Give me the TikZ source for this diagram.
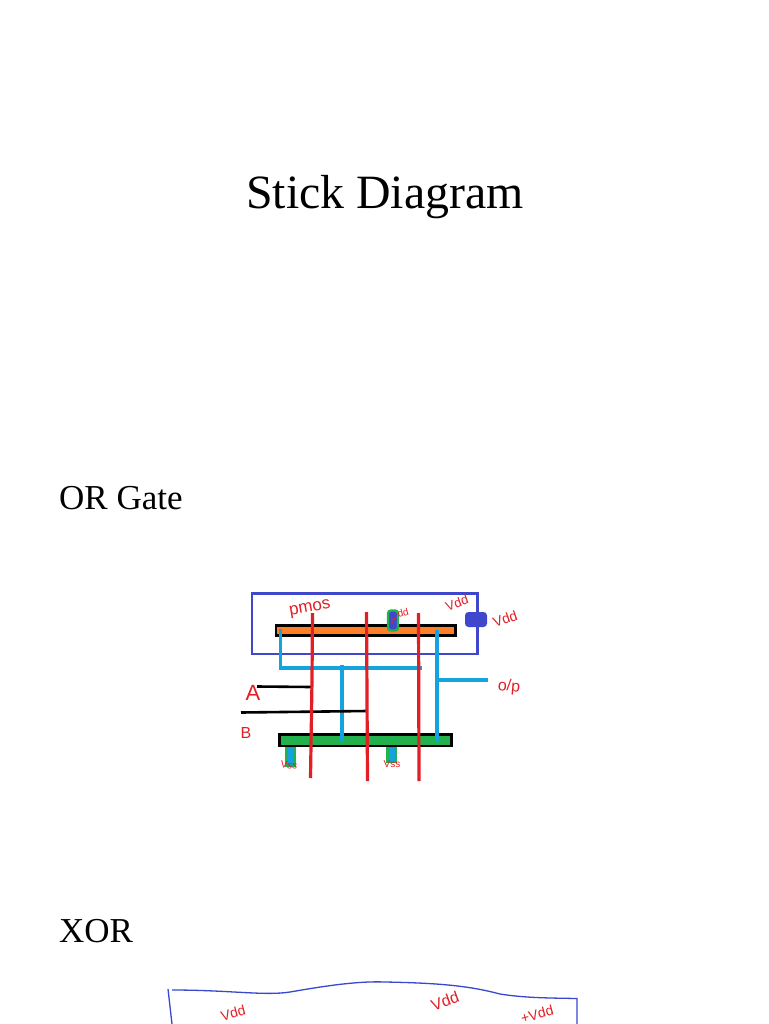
\documentclass[tikz,border=0pt]{standalone}
\usepackage{fontspec}
\setmainfont{Liberation Serif}
\newfontfamily\handfont{Liberation Sans}
\definecolor{wellblue}{HTML}{3F48CC}
\definecolor{polyred}{HTML}{E21F26}
\definecolor{metalblue}{HTML}{15A3DF}
\definecolor{difforange}{HTML}{FF7F27}
\definecolor{diffgreen}{HTML}{22B14C}
\definecolor{sketchblue}{HTML}{3A48D0}
\tikzset{
  titletext/.style={anchor=base west,inner sep=0pt,font=\fontsize{47.8}{48}\selectfont},
  headtext/.style={anchor=base west,inner sep=0pt,font=\fontsize{35}{35}\selectfont},
  hand/.style={text=polyred,inner sep=0pt,font=\handfont\fontsize{#1}{#1}\selectfont},
  well/.style={draw=wellblue,line width=2.8pt},
  poly/.style={draw=polyred,line width=3.2pt},
  metal/.style={draw=metalblue,line width=3.1pt},
  gatewire/.style={draw=black,line width=2.6pt},
  rail/.style={draw=black,line width=2.5pt}
}
\begin{document}
\begin{tikzpicture}[x=1pt,y=-1pt]
\useasboundingbox[fill=white] (0,0) rectangle (768,1024);
\node[titletext] (title) at (246,208.5) {Stick Diagram};
\node[headtext] (orh) at (59,509) {OR Gate};
\node[headtext] (xorh) at (59,942) {XOR};
% n-well / pmos box
\draw[well] (252,593.5) rectangle (477.5,654);
% rails
\draw[rail,fill=difforange] (276,625.6) rectangle (455.5,635.6);
\draw[rail,fill=diffgreen] (279.3,734.5) rectangle (451.5,746);
% bottom contacts
\fill[diffgreen] (285,747) rectangle (296,767);
\fill[metalblue] (287.5,747.5) rectangle (293,765);
\fill[diffgreen] (386,747) rectangle (397,763);
\fill[metalblue] (389,748) rectangle (395,761);
% top contact
\draw[draw=diffgreen,line width=2.4pt,fill=wellblue,rounded corners=3pt] (388,610.5) rectangle (398,630.5);
\draw[polyred,line width=0.9pt] (391,620) -- (395,618) -- (391,624);
% vdd pad
\fill[wellblue,rounded corners=3.5pt] (465,612) rectangle (487,627);
% metal
\draw[metal] (280.5,629) -- (280.5,668) -- (422,668);
\draw[metal] (342,665) -- (342,741);
\draw[metal] (437,630) -- (437,741);
\draw[metal] (437,680) -- (488,680);
% inputs
\draw[gatewire] (257,686.5) -- (311,687);
\draw[gatewire] (241,712.5) -- (367,711);
% poly
\draw[poly] (312.5,613) -- (312,680) -- (310.5,778);
\draw[poly] (366.5,612) -- (367.5,781);
\draw[poly] (418.5,613) -- (419,781);
% xor sketch
\draw[sketchblue,line width=1.3pt] (168,989) -- (172,1024);
\draw[sketchblue,line width=1.3pt] (172,990) .. controls (230,990) and (265,996) .. (290,992) .. controls (330,985) and (360,981) .. (385,982) .. controls (440,983) and (470,986) .. (500,994) .. controls (525,998) and (550,998) .. (577,998.5) -- (577,1024);
% labels
\node[hand=17,rotate=10] (pmoslbl) at (310,609) {pmos};
\node[hand=10,rotate=15] at (403,613) {dd};
\node[hand=13,rotate=20] at (457,603) {Vdd};
\node[hand=14,rotate=20] at (505,619) {Vdd};
\node[hand=16,rotate=-5] at (509,687) {o/p};
\node[hand=22] at (253,693) {A};
\node[hand=16] at (246,733) {B};
\node[hand=10,rotate=-8] at (289,765) {Vss};
\node[hand=10] at (392,764) {Vss};
\node[hand=14,rotate=15] at (233,1013) {Vdd};
\node[hand=16,rotate=20] at (445,1001) {Vdd};
\node[hand=14,rotate=15] at (537,1014) {+Vdd};
\end{tikzpicture}
\end{document}
